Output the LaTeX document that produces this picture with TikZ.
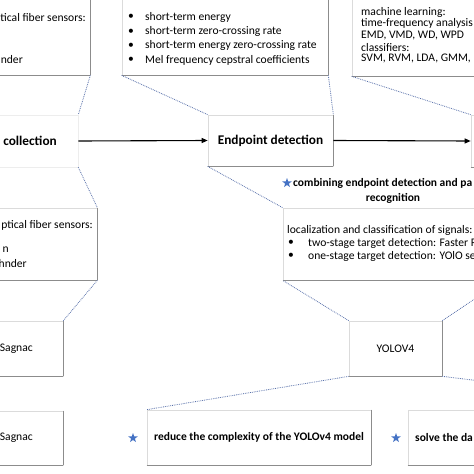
\documentclass[tikz,border=0pt]{standalone}
\usepackage{fontspec}
\setmainfont{Carlito}
\usetikzlibrary{arrows.meta,fit,shapes.geometric}
\definecolor{linkblue}{RGB}{88,112,170}
\definecolor{starblue}{RGB}{68,114,196}
\tikzset{
  panel/.style={draw=black!14, line width=0.7pt, inner sep=0pt,
    append after command={
      (\tikzlastnode.north east) edge[black!45, line width=0.8pt] (\tikzlastnode.south east)
      (\tikzlastnode.south west) edge[black!45, line width=0.8pt] (\tikzlastnode.south east)}},
  faint/.style={draw=black!7, line width=0.6pt, inner sep=0pt},
  link/.style={linkblue, densely dotted, line width=0.8pt},
  flow/.style={line width=1.1pt, -{Triangle[length=6pt,width=5pt]}},
  txt/.style={inner sep=0pt, font=\fontsize{11.6}{13}\selectfont},
  head/.style={inner sep=0pt, font=\fontsize{11.5}{13}\selectfont\bfseries},
  title/.style={inner sep=0pt, font=\fontsize{13.3}{15}\selectfont\bfseries},
  starmark/.style={star, star points=5, star point ratio=2.5, fill=starblue,
    inner sep=0pt, minimum size=10pt}
}
\begin{document}
\begin{tikzpicture}[x=1pt, y=-1pt]
\useasboundingbox (0,0) rectangle (474,474);
\clip (0,0) rectangle (474,474);

% main steps
\node[faint, fit={(-60,115) (78,167)}] (collect) {};
\node[panel, fit={(208,115) (333,166)}] (endpt) {};
\node[panel, fit={(471,115) (600,167)}] (recog) {};
\node[title, anchor=east] (collectTxt) at (57,141) {collection};
\node[title] (endptTxt) at (endpt.center) {Endpoint detection};
\draw[flow] (collect.east) -- (endpt.west);
\draw[flow] (endpt.east) -- (recog.west);

% details above
\node[panel, fit={(-80,-20) (90,75)}] (sensTop) {};
\node[txt, anchor=east] (sensTopA) at (86,18) {tical fiber sensors:};
\node[txt, anchor=east] (sensTopB) at (23,60) {nder};

\node[panel, fit={(122,-20) (328,75)}] (featTop) {};
\foreach \t [count=\i] in {short-term energy, short-term zero-crossing rate,
    short-term energy zero-crossing rate, Mel frequency cepstral coefficients}{
  \node[txt] (featDot\i) at (131,3+14.3*\i) {\textbullet};
  \node[txt, anchor=west] (feat\i) at (145,3+14.3*\i) {\t};
}

\node[panel, fit={(352,-20) (560,76)}] (learnTop) {};
\foreach \t [count=\i] in {machine learning:, time-frequency analysis,
    {EMD, VMD, WD, WPD}, classifiers:, {SVM, RVM, LDA, GMM,}}{
  \node[txt, anchor=west] (learn\i) at (361,0.3+11.7*\i) {\t};
}

\draw[link] (sensTop.south east) -- (collect.north east);
\draw[link] (featTop.south west) -- (endpt.north west);
\draw[link] (featTop.south east) -- (endpt.north east);
\draw[link] (learnTop.south west) -- (recog.north west);

% left column
\node[panel, fit={(-80,208) (97,280)}] (sensMid) {};
\node[txt, anchor=east] (sensMidA) at (93,225) {ptical fiber sensors:};
\node[txt, anchor=east] (sensMidB) at (9,250) {n};
\node[txt, anchor=east] (sensMidC) at (27,264) {hnder};
\node[panel, fit={(-60,321) (63,376)}] (sagnacA) {};
\node[txt, anchor=east] (sagnacATxt) at (33,349) {Sagnac};
\node[panel, fit={(-60,411) (63,465)}] (sagnacB) {};
\node[txt, anchor=east] (sagnacBTxt) at (33,438) {Sagnac};
\draw[link] (collect.south east) -- (sensMid.north east);
\draw[link] (sensMid.south east) -- (sagnacA.north east);

% endpoint detection + pattern recognition
\node[starmark] (starHead) at (287,183) {};
\node[head, anchor=west] (headA) at (293,183) {combining endpoint detection and pa};
\node[head] (headB) at (393,198) {recognition};
\node[panel, fit={(283,208) (502,280)}] (locate) {};
\node[txt, anchor=west] (locTxt) at (287,230) {localization and classification of signals:};
\node[txt] (locDotA) at (291,243) {\textbullet};
\node[txt, anchor=west] (locA) at (308,243) {two-stage target detection: Faster R};
\node[txt] (locDotB) at (291,256) {\textbullet};
\node[txt, anchor=west] (locB) at (308,256) {one-stage target detection: YOlO se};
\draw[link] (endpt.south west) -- (locate.north west);

% YOLOv4 and its changes
\node[panel, fit={(349,321) (442,376)}] (yolo) {};
\node[txt] (yoloTxt) at (yolo.center) {YOLOV4};
\node[panel, fit={(147,410) (371,465)}] (reduce) {};
\node[head] (reduceTxt) at (reduce.center) {reduce the complexity of the YOLOv4 model};
\node[starmark] (starReduce) at (133,438) {};
\node[panel, fit={(408,410) (714,465)}] (solve) {};
\node[head, anchor=west] (solveTxt) at (415,438) {solve the da};
\node[starmark] (starSolve) at (396,438) {};
\draw[link] (yolo.north west) -- (locate.south west);
\draw[link] (yolo.north east) -- (locate.south east);
\draw[link] (yolo.south west) -- (reduce.north west);
\draw[link] (yolo.south east) -- (solve.north east);
\end{tikzpicture}
\end{document}
